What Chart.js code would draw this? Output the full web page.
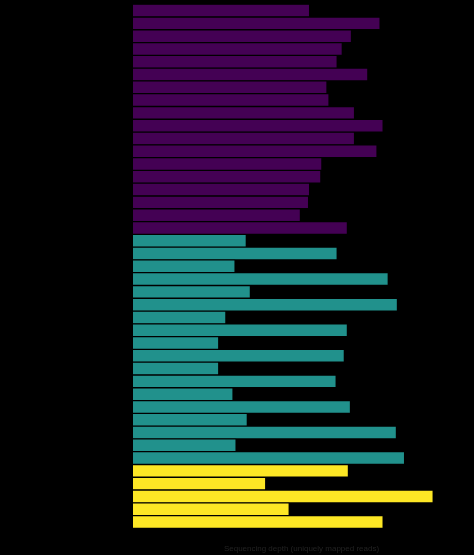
<!DOCTYPE html>
<html><head><meta charset="utf-8">
<script src="https://cdn.jsdelivr.net/npm/chart.js@4/dist/chart.umd.min.js"></script>
<style>html,body{margin:0;background:#000}#wrap{width:474px;height:555px}</style>
</head><body><div id="wrap"><canvas id="c"></canvas></div>
<script>
const purpleVals=[173,242,214,205,200,230,190,192,217,245,217,239,185,184,173,172,164,210];
const tealVals=[111,200,100,250,115,259,91,210,84,207,84,199,98,213,112,258,101,266];
const yellowVals=[211,130,294,153,245];
const labels=[];
const values=[];
const colors=[];
purpleVals.forEach((v,i)=>{labels.push('P'+(i+1));values.push(v);colors.push('#440154');});
tealVals.forEach((v,i)=>{labels.push('T'+(i+1));values.push(v);colors.push('#21918c');});
yellowVals.forEach((v,i)=>{labels.push('Y'+(i+1));values.push(v);colors.push('#fde725');});

new Chart(document.getElementById('c'),{
  type:'bar',
  data:{labels:labels,datasets:[{data:values,backgroundColor:colors,borderColor:'#000',borderWidth:1,categoryPercentage:1,barPercentage:1}]},
  options:{
    indexAxis:'y',responsive:true,maintainAspectRatio:false,animation:false,
    layout:{padding:{top:2,right:4,bottom:0}},
    plugins:{legend:{display:false},tooltip:{enabled:false}},
    scales:{
      x:{min:0,max:330,grid:{display:false},border:{display:false},
         ticks:{display:false},
         title:{display:true,text:'Sequencing depth (uniquely mapped reads)',color:'#222',font:{size:8},padding:{top:8,bottom:1}}},
      y:{grid:{display:false},border:{display:false},ticks:{color:'#000',font:{size:2}},
         afterFit(s){s.width=133;}}
    }
  }
});
</script></body></html>
